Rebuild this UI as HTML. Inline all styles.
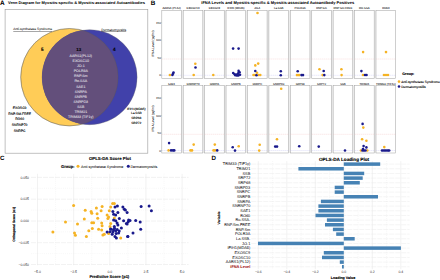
<!DOCTYPE html>
<html><head><meta charset="utf-8"><style>
html,body{margin:0;padding:0;background:#fff;width:440px;height:280px;overflow:hidden}
svg{display:block;font-family:"Liberation Sans", sans-serif;text-rendering:geometricPrecision}
</style></head><body>
<svg width="440" height="280" viewBox="0 0 440 280">
<defs><filter id="bl" x="0" y="0" width="440" height="280" filterUnits="userSpaceOnUse"><feGaussianBlur stdDeviation="0.0"/></filter></defs>
<g>
<rect width="440" height="280" fill="#fff"/>
<text x="0.00" y="4.60" font-size="6.4" text-anchor="start" font-weight="bold" fill="#000" >A</text>
<text x="8.00" y="4.20" font-size="3.93" text-anchor="start" font-weight="bold" fill="#000" stroke="#000" stroke-width="0.03" >Venn Diagram for Myositis-specific &amp; Myositis-associated Autoantibodies</text>
<rect x="5.10" y="9.60" width="142.70" height="143.60" fill="none" stroke="#a0a0a0" stroke-width="0.65" />
<defs><clipPath id="cy"><circle cx="69.4" cy="77.2" r="48.7"/></clipPath></defs>
<circle cx="69.40" cy="77.20" r="48.7" fill="#FFCC57" stroke="#6b6b6b" stroke-width="0.35"/>
<circle cx="89.60" cy="77.20" r="47.5" fill="#4141AA" stroke="#6b6b6b" stroke-width="0.35"/>
<circle cx="89.60" cy="77.20" r="47.5" fill="#634F7B" clip-path="url(#cy)"/>
<circle cx="69.4" cy="77.2" r="48.7" fill="none" stroke="#555" stroke-width="0.3"/>
<text x="13.30" y="30.40" font-size="3.3" text-anchor="start" fill="#000" stroke="#000" stroke-width="0.03" text-decoration="underline">Anti-synthetase Syndrome</text>
<text x="101.30" y="30.60" font-size="3.35" text-anchor="start" fill="#000" stroke="#000" stroke-width="0.03" text-decoration="underline">Dermatomyositis</text>
<text x="42.40" y="50.60" font-size="4.6" text-anchor="middle" font-weight="bold" fill="#000" stroke="#000" stroke-width="0.12" >5</text>
<text x="78.75" y="50.60" font-size="4.3" text-anchor="middle" font-weight="bold" fill="#000" stroke="#000" stroke-width="0.12" >13</text>
<text x="114.20" y="50.50" font-size="4.6" text-anchor="middle" font-weight="bold" fill="#000" stroke="#000" stroke-width="0.12" >4</text>
<text x="80.80" y="57.10" font-size="3.6" text-anchor="middle" fill="#fff" >AARS1(PL12)</text>
<text x="80.80" y="62.17" font-size="3.6" text-anchor="middle" fill="#fff" >EXOSC10</text>
<text x="80.80" y="67.24" font-size="3.6" text-anchor="middle" fill="#fff" >JO-1</text>
<text x="80.80" y="72.31" font-size="3.6" text-anchor="middle" fill="#fff" >POLR3A</text>
<text x="80.80" y="77.38" font-size="3.6" text-anchor="middle" fill="#fff" >RNP.Sm</text>
<text x="80.80" y="82.45" font-size="3.6" text-anchor="middle" fill="#fff" >Ro.SSA</text>
<text x="80.80" y="87.52" font-size="3.6" text-anchor="middle" fill="#fff" >SAE1</text>
<text x="80.80" y="92.59" font-size="3.6" text-anchor="middle" fill="#fff" >SNRPA</text>
<text x="80.80" y="97.66" font-size="3.6" text-anchor="middle" fill="#fff" >SNRPB</text>
<text x="80.80" y="102.73" font-size="3.6" text-anchor="middle" fill="#fff" >SNRPD3</text>
<text x="80.80" y="107.80" font-size="3.6" text-anchor="middle" fill="#fff" >SSB</text>
<text x="80.80" y="112.87" font-size="3.6" text-anchor="middle" fill="#fff" >TRIM21</text>
<text x="80.80" y="117.94" font-size="3.6" text-anchor="middle" fill="#fff" >TRIM33 (TIF1γ)</text>
<text x="19.60" y="108.75" font-size="3.4" text-anchor="middle" fill="#000" stroke="#000" stroke-width="0.1" >EXOSC9</text>
<text x="19.60" y="114.53" font-size="3.4" text-anchor="middle" fill="#000" stroke="#000" stroke-width="0.1" >RNP.SM.FREE</text>
<text x="19.60" y="120.31" font-size="3.4" text-anchor="middle" fill="#000" stroke="#000" stroke-width="0.1" >RO60</text>
<text x="19.60" y="126.09" font-size="3.4" text-anchor="middle" fill="#000" stroke="#000" stroke-width="0.1" >SNRNP70</text>
<text x="19.60" y="131.87" font-size="3.4" text-anchor="middle" fill="#000" stroke="#000" stroke-width="0.1" >SNRPC</text>
<text x="136.30" y="109.50" font-size="3.2" text-anchor="middle" fill="#000" stroke="#000" stroke-width="0.1" >IFIH1(MDA5)</text>
<text x="136.30" y="114.30" font-size="3.2" text-anchor="middle" fill="#000" stroke="#000" stroke-width="0.1" >La.SSB</text>
<text x="136.30" y="119.10" font-size="3.2" text-anchor="middle" fill="#000" stroke="#000" stroke-width="0.1" >SRP68</text>
<text x="136.30" y="123.90" font-size="3.2" text-anchor="middle" fill="#000" stroke="#000" stroke-width="0.1" >SRP72</text>
<text x="150.80" y="4.60" font-size="6.3" text-anchor="start" font-weight="bold" fill="#000" stroke="#000" stroke-width="0.05" >B</text>
<text x="201.30" y="4.20" font-size="4.0" text-anchor="start" font-weight="bold" fill="#000" stroke="#000" stroke-width="0.03" >IFNA Levels and Myositis-specific &amp; Myositis-associated Autoantibody Positives</text>
<rect x="181.40" y="10.30" width="1.82" height="68.10" fill="#ececec" stroke="none" stroke-width="0" />
<rect x="161.80" y="10.30" width="19.60" height="68.10" fill="#fff" stroke="#a6a6a6" stroke-width="0.55" />
<line x1="161.80" y1="59.00" x2="181.40" y2="59.00" stroke="#f2b8b8" stroke-width="0.3" stroke-dasharray="1.5 0.5"/>
<line x1="161.80" y1="75.30" x2="181.40" y2="75.30" stroke="#b8b8f2" stroke-width="0.3" stroke-dasharray="1.5 0.5"/>
<text x="171.60" y="9.30" font-size="2.8" text-anchor="middle" fill="#111" stroke="#111" stroke-width="0.06" >AARS1 (PL12)</text>
<rect x="202.82" y="10.30" width="1.82" height="68.10" fill="#ececec" stroke="none" stroke-width="0" />
<rect x="183.22" y="10.30" width="19.60" height="68.10" fill="#fff" stroke="#a6a6a6" stroke-width="0.55" />
<line x1="183.22" y1="59.00" x2="202.82" y2="59.00" stroke="#f2b8b8" stroke-width="0.3" stroke-dasharray="1.5 0.5"/>
<line x1="183.22" y1="75.30" x2="202.82" y2="75.30" stroke="#b8b8f2" stroke-width="0.3" stroke-dasharray="1.5 0.5"/>
<text x="193.02" y="9.30" font-size="2.8" text-anchor="middle" fill="#111" stroke="#111" stroke-width="0.06" >EXOSC10</text>
<rect x="224.24" y="10.30" width="1.82" height="68.10" fill="#ececec" stroke="none" stroke-width="0" />
<rect x="204.64" y="10.30" width="19.60" height="68.10" fill="#fff" stroke="#a6a6a6" stroke-width="0.55" />
<line x1="204.64" y1="59.00" x2="224.24" y2="59.00" stroke="#f2b8b8" stroke-width="0.3" stroke-dasharray="1.5 0.5"/>
<line x1="204.64" y1="75.30" x2="224.24" y2="75.30" stroke="#b8b8f2" stroke-width="0.3" stroke-dasharray="1.5 0.5"/>
<text x="214.44" y="9.30" font-size="2.8" text-anchor="middle" fill="#111" stroke="#111" stroke-width="0.06" >EXOSC9</text>
<rect x="245.66" y="10.30" width="1.82" height="68.10" fill="#ececec" stroke="none" stroke-width="0" />
<rect x="226.06" y="10.30" width="19.60" height="68.10" fill="#fff" stroke="#a6a6a6" stroke-width="0.55" />
<line x1="226.06" y1="59.00" x2="245.66" y2="59.00" stroke="#f2b8b8" stroke-width="0.3" stroke-dasharray="1.5 0.5"/>
<line x1="226.06" y1="75.30" x2="245.66" y2="75.30" stroke="#b8b8f2" stroke-width="0.3" stroke-dasharray="1.5 0.5"/>
<text x="235.86" y="9.30" font-size="2.8" text-anchor="middle" fill="#111" stroke="#111" stroke-width="0.06" >IFIH1 (MDA5)</text>
<rect x="267.08" y="10.30" width="1.82" height="68.10" fill="#ececec" stroke="none" stroke-width="0" />
<rect x="247.48" y="10.30" width="19.60" height="68.10" fill="#fff" stroke="#a6a6a6" stroke-width="0.55" />
<line x1="247.48" y1="59.00" x2="267.08" y2="59.00" stroke="#f2b8b8" stroke-width="0.3" stroke-dasharray="1.5 0.5"/>
<line x1="247.48" y1="75.30" x2="267.08" y2="75.30" stroke="#b8b8f2" stroke-width="0.3" stroke-dasharray="1.5 0.5"/>
<text x="257.28" y="9.30" font-size="2.8" text-anchor="middle" fill="#111" stroke="#111" stroke-width="0.06" >JO-1</text>
<rect x="288.50" y="10.30" width="1.82" height="68.10" fill="#ececec" stroke="none" stroke-width="0" />
<rect x="268.90" y="10.30" width="19.60" height="68.10" fill="#fff" stroke="#a6a6a6" stroke-width="0.55" />
<line x1="268.90" y1="59.00" x2="288.50" y2="59.00" stroke="#f2b8b8" stroke-width="0.3" stroke-dasharray="1.5 0.5"/>
<line x1="268.90" y1="75.30" x2="288.50" y2="75.30" stroke="#b8b8f2" stroke-width="0.3" stroke-dasharray="1.5 0.5"/>
<text x="278.70" y="9.30" font-size="2.8" text-anchor="middle" fill="#111" stroke="#111" stroke-width="0.06" >La.SSB</text>
<rect x="309.92" y="10.30" width="1.82" height="68.10" fill="#ececec" stroke="none" stroke-width="0" />
<rect x="290.32" y="10.30" width="19.60" height="68.10" fill="#fff" stroke="#a6a6a6" stroke-width="0.55" />
<line x1="290.32" y1="59.00" x2="309.92" y2="59.00" stroke="#f2b8b8" stroke-width="0.3" stroke-dasharray="1.5 0.5"/>
<line x1="290.32" y1="75.30" x2="309.92" y2="75.30" stroke="#b8b8f2" stroke-width="0.3" stroke-dasharray="1.5 0.5"/>
<text x="300.12" y="9.30" font-size="2.8" text-anchor="middle" fill="#111" stroke="#111" stroke-width="0.06" >POLR3A</text>
<rect x="331.34" y="10.30" width="1.82" height="68.10" fill="#ececec" stroke="none" stroke-width="0" />
<rect x="311.74" y="10.30" width="19.60" height="68.10" fill="#fff" stroke="#a6a6a6" stroke-width="0.55" />
<line x1="311.74" y1="59.00" x2="331.34" y2="59.00" stroke="#f2b8b8" stroke-width="0.3" stroke-dasharray="1.5 0.5"/>
<line x1="311.74" y1="75.30" x2="331.34" y2="75.30" stroke="#b8b8f2" stroke-width="0.3" stroke-dasharray="1.5 0.5"/>
<text x="321.54" y="9.30" font-size="2.8" text-anchor="middle" fill="#111" stroke="#111" stroke-width="0.06" >RNP.Sm</text>
<rect x="352.76" y="10.30" width="1.82" height="68.10" fill="#ececec" stroke="none" stroke-width="0" />
<rect x="333.16" y="10.30" width="19.60" height="68.10" fill="#fff" stroke="#a6a6a6" stroke-width="0.55" />
<line x1="333.16" y1="59.00" x2="352.76" y2="59.00" stroke="#f2b8b8" stroke-width="0.3" stroke-dasharray="1.5 0.5"/>
<line x1="333.16" y1="75.30" x2="352.76" y2="75.30" stroke="#b8b8f2" stroke-width="0.3" stroke-dasharray="1.5 0.5"/>
<text x="342.96" y="9.30" font-size="2.8" text-anchor="middle" fill="#111" stroke="#111" stroke-width="0.06" >RNP.Sm.FREE</text>
<rect x="374.18" y="10.30" width="1.82" height="68.10" fill="#ececec" stroke="none" stroke-width="0" />
<rect x="354.58" y="10.30" width="19.60" height="68.10" fill="#fff" stroke="#a6a6a6" stroke-width="0.55" />
<line x1="354.58" y1="59.00" x2="374.18" y2="59.00" stroke="#f2b8b8" stroke-width="0.3" stroke-dasharray="1.5 0.5"/>
<line x1="354.58" y1="75.30" x2="374.18" y2="75.30" stroke="#b8b8f2" stroke-width="0.3" stroke-dasharray="1.5 0.5"/>
<text x="364.38" y="9.30" font-size="2.8" text-anchor="middle" fill="#111" stroke="#111" stroke-width="0.06" >RO.SSA</text>
<rect x="376.00" y="10.30" width="19.60" height="68.10" fill="#fff" stroke="#a6a6a6" stroke-width="0.55" />
<line x1="376.00" y1="59.00" x2="395.60" y2="59.00" stroke="#f2b8b8" stroke-width="0.3" stroke-dasharray="1.5 0.5"/>
<line x1="376.00" y1="75.30" x2="395.60" y2="75.30" stroke="#b8b8f2" stroke-width="0.3" stroke-dasharray="1.5 0.5"/>
<text x="385.80" y="9.30" font-size="2.8" text-anchor="middle" fill="#111" stroke="#111" stroke-width="0.06" >RO60</text>
<text x="160.90" y="76.30" font-size="2.95" text-anchor="end" fill="#333" stroke="#333" stroke-width="0.06" >0</text>
<line x1="161.00" y1="75.30" x2="161.80" y2="75.30" stroke="#999" stroke-width="0.3" />
<text x="160.90" y="58.70" font-size="2.95" text-anchor="end" fill="#333" stroke="#333" stroke-width="0.06" >50</text>
<line x1="161.00" y1="57.70" x2="161.80" y2="57.70" stroke="#999" stroke-width="0.3" />
<text x="160.90" y="41.10" font-size="2.95" text-anchor="end" fill="#333" stroke="#333" stroke-width="0.06" >100</text>
<line x1="161.00" y1="40.10" x2="161.80" y2="40.10" stroke="#999" stroke-width="0.3" />
<text x="160.90" y="23.50" font-size="2.95" text-anchor="end" fill="#333" stroke="#333" stroke-width="0.06" >150</text>
<line x1="161.00" y1="22.50" x2="161.80" y2="22.50" stroke="#999" stroke-width="0.3" />
<text x="0" y="0" font-size="3.2" fill="#111" stroke="#111" stroke-width="0.06" text-anchor="middle" transform="translate(154.2,43.65) rotate(-90)">IFNA Level (pg/ml)</text>
<rect x="181.40" y="85.50" width="1.82" height="67.50" fill="#ececec" stroke="none" stroke-width="0" />
<rect x="161.80" y="85.50" width="19.60" height="67.50" fill="#fff" stroke="#a6a6a6" stroke-width="0.55" />
<line x1="161.80" y1="134.30" x2="181.40" y2="134.30" stroke="#f2b8b8" stroke-width="0.3" stroke-dasharray="1.5 0.5"/>
<line x1="161.80" y1="150.50" x2="181.40" y2="150.50" stroke="#b8b8f2" stroke-width="0.3" stroke-dasharray="1.5 0.5"/>
<text x="171.60" y="84.60" font-size="2.8" text-anchor="middle" fill="#111" stroke="#111" stroke-width="0.06" >SAE1</text>
<rect x="202.82" y="85.50" width="1.82" height="67.50" fill="#ececec" stroke="none" stroke-width="0" />
<rect x="183.22" y="85.50" width="19.60" height="67.50" fill="#fff" stroke="#a6a6a6" stroke-width="0.55" />
<line x1="183.22" y1="134.30" x2="202.82" y2="134.30" stroke="#f2b8b8" stroke-width="0.3" stroke-dasharray="1.5 0.5"/>
<line x1="183.22" y1="150.50" x2="202.82" y2="150.50" stroke="#b8b8f2" stroke-width="0.3" stroke-dasharray="1.5 0.5"/>
<text x="193.02" y="84.60" font-size="2.8" text-anchor="middle" fill="#111" stroke="#111" stroke-width="0.06" >SNRNP70</text>
<rect x="224.24" y="85.50" width="1.82" height="67.50" fill="#ececec" stroke="none" stroke-width="0" />
<rect x="204.64" y="85.50" width="19.60" height="67.50" fill="#fff" stroke="#a6a6a6" stroke-width="0.55" />
<line x1="204.64" y1="134.30" x2="224.24" y2="134.30" stroke="#f2b8b8" stroke-width="0.3" stroke-dasharray="1.5 0.5"/>
<line x1="204.64" y1="150.50" x2="224.24" y2="150.50" stroke="#b8b8f2" stroke-width="0.3" stroke-dasharray="1.5 0.5"/>
<text x="214.44" y="84.60" font-size="2.8" text-anchor="middle" fill="#111" stroke="#111" stroke-width="0.06" >SNRPA</text>
<rect x="245.66" y="85.50" width="1.82" height="67.50" fill="#ececec" stroke="none" stroke-width="0" />
<rect x="226.06" y="85.50" width="19.60" height="67.50" fill="#fff" stroke="#a6a6a6" stroke-width="0.55" />
<line x1="226.06" y1="134.30" x2="245.66" y2="134.30" stroke="#f2b8b8" stroke-width="0.3" stroke-dasharray="1.5 0.5"/>
<line x1="226.06" y1="150.50" x2="245.66" y2="150.50" stroke="#b8b8f2" stroke-width="0.3" stroke-dasharray="1.5 0.5"/>
<text x="235.86" y="84.60" font-size="2.8" text-anchor="middle" fill="#111" stroke="#111" stroke-width="0.06" >SNRPB</text>
<rect x="267.08" y="85.50" width="1.82" height="67.50" fill="#ececec" stroke="none" stroke-width="0" />
<rect x="247.48" y="85.50" width="19.60" height="67.50" fill="#fff" stroke="#a6a6a6" stroke-width="0.55" />
<line x1="247.48" y1="134.30" x2="267.08" y2="134.30" stroke="#f2b8b8" stroke-width="0.3" stroke-dasharray="1.5 0.5"/>
<line x1="247.48" y1="150.50" x2="267.08" y2="150.50" stroke="#b8b8f2" stroke-width="0.3" stroke-dasharray="1.5 0.5"/>
<text x="257.28" y="84.60" font-size="2.8" text-anchor="middle" fill="#111" stroke="#111" stroke-width="0.06" >SNRPC</text>
<rect x="288.50" y="85.50" width="1.82" height="67.50" fill="#ececec" stroke="none" stroke-width="0" />
<rect x="268.90" y="85.50" width="19.60" height="67.50" fill="#fff" stroke="#a6a6a6" stroke-width="0.55" />
<line x1="268.90" y1="134.30" x2="288.50" y2="134.30" stroke="#f2b8b8" stroke-width="0.3" stroke-dasharray="1.5 0.5"/>
<line x1="268.90" y1="150.50" x2="288.50" y2="150.50" stroke="#b8b8f2" stroke-width="0.3" stroke-dasharray="1.5 0.5"/>
<text x="278.70" y="84.60" font-size="2.8" text-anchor="middle" fill="#111" stroke="#111" stroke-width="0.06" >SNRPD3</text>
<rect x="309.92" y="85.50" width="1.82" height="67.50" fill="#ececec" stroke="none" stroke-width="0" />
<rect x="290.32" y="85.50" width="19.60" height="67.50" fill="#fff" stroke="#a6a6a6" stroke-width="0.55" />
<line x1="290.32" y1="134.30" x2="309.92" y2="134.30" stroke="#f2b8b8" stroke-width="0.3" stroke-dasharray="1.5 0.5"/>
<line x1="290.32" y1="150.50" x2="309.92" y2="150.50" stroke="#b8b8f2" stroke-width="0.3" stroke-dasharray="1.5 0.5"/>
<text x="300.12" y="84.60" font-size="2.8" text-anchor="middle" fill="#111" stroke="#111" stroke-width="0.06" >SRP68</text>
<rect x="331.34" y="85.50" width="1.82" height="67.50" fill="#ececec" stroke="none" stroke-width="0" />
<rect x="311.74" y="85.50" width="19.60" height="67.50" fill="#fff" stroke="#a6a6a6" stroke-width="0.55" />
<line x1="311.74" y1="134.30" x2="331.34" y2="134.30" stroke="#f2b8b8" stroke-width="0.3" stroke-dasharray="1.5 0.5"/>
<line x1="311.74" y1="150.50" x2="331.34" y2="150.50" stroke="#b8b8f2" stroke-width="0.3" stroke-dasharray="1.5 0.5"/>
<text x="321.54" y="84.60" font-size="2.8" text-anchor="middle" fill="#111" stroke="#111" stroke-width="0.06" >SRP72</text>
<rect x="352.76" y="85.50" width="1.82" height="67.50" fill="#ececec" stroke="none" stroke-width="0" />
<rect x="333.16" y="85.50" width="19.60" height="67.50" fill="#fff" stroke="#a6a6a6" stroke-width="0.55" />
<line x1="333.16" y1="134.30" x2="352.76" y2="134.30" stroke="#f2b8b8" stroke-width="0.3" stroke-dasharray="1.5 0.5"/>
<line x1="333.16" y1="150.50" x2="352.76" y2="150.50" stroke="#b8b8f2" stroke-width="0.3" stroke-dasharray="1.5 0.5"/>
<text x="342.96" y="84.60" font-size="2.8" text-anchor="middle" fill="#111" stroke="#111" stroke-width="0.06" >SSB</text>
<rect x="374.18" y="85.50" width="1.82" height="67.50" fill="#ececec" stroke="none" stroke-width="0" />
<rect x="354.58" y="85.50" width="19.60" height="67.50" fill="#fff" stroke="#a6a6a6" stroke-width="0.55" />
<line x1="354.58" y1="134.30" x2="374.18" y2="134.30" stroke="#f2b8b8" stroke-width="0.3" stroke-dasharray="1.5 0.5"/>
<line x1="354.58" y1="150.50" x2="374.18" y2="150.50" stroke="#b8b8f2" stroke-width="0.3" stroke-dasharray="1.5 0.5"/>
<text x="364.38" y="84.60" font-size="2.8" text-anchor="middle" fill="#111" stroke="#111" stroke-width="0.06" >TRIM21</text>
<rect x="376.00" y="85.50" width="19.60" height="67.50" fill="#fff" stroke="#a6a6a6" stroke-width="0.55" />
<line x1="376.00" y1="134.30" x2="395.60" y2="134.30" stroke="#f2b8b8" stroke-width="0.3" stroke-dasharray="1.5 0.5"/>
<line x1="376.00" y1="150.50" x2="395.60" y2="150.50" stroke="#b8b8f2" stroke-width="0.3" stroke-dasharray="1.5 0.5"/>
<text x="385.80" y="84.60" font-size="2.8" text-anchor="middle" fill="#111" stroke="#111" stroke-width="0.06" >TRIM33 (TIF1γ)</text>
<text x="160.90" y="151.50" font-size="2.95" text-anchor="end" fill="#333" stroke="#333" stroke-width="0.06" >0</text>
<line x1="161.00" y1="150.50" x2="161.80" y2="150.50" stroke="#999" stroke-width="0.3" />
<text x="160.90" y="134.00" font-size="2.95" text-anchor="end" fill="#333" stroke="#333" stroke-width="0.06" >50</text>
<line x1="161.00" y1="133.00" x2="161.80" y2="133.00" stroke="#999" stroke-width="0.3" />
<text x="160.90" y="116.50" font-size="2.95" text-anchor="end" fill="#333" stroke="#333" stroke-width="0.06" >100</text>
<line x1="161.00" y1="115.50" x2="161.80" y2="115.50" stroke="#999" stroke-width="0.3" />
<text x="160.90" y="99.00" font-size="2.95" text-anchor="end" fill="#333" stroke="#333" stroke-width="0.06" >150</text>
<line x1="161.00" y1="98.00" x2="161.80" y2="98.00" stroke="#999" stroke-width="0.3" />
<text x="0" y="0" font-size="3.2" fill="#111" stroke="#111" stroke-width="0.06" text-anchor="middle" transform="translate(154.2,118.55) rotate(-90)">IFNA Level (pg/ml)</text>
<circle cx="169.90" cy="75.00" r="1.3" fill="#F5B324" />
<circle cx="173.50" cy="72.60" r="1.3" fill="#1A1A8C" />
<circle cx="173.00" cy="73.80" r="1.3" fill="#1A1A8C" />
<circle cx="172.40" cy="75.00" r="1.3" fill="#1A1A8C" />
<circle cx="195.30" cy="63.80" r="1.3" fill="#F5B324" />
<circle cx="195.50" cy="67.50" r="1.3" fill="#1A1A8C" />
<circle cx="193.70" cy="75.00" r="1.3" fill="#F5B324" />
<circle cx="213.30" cy="75.00" r="1.3" fill="#F5B324" />
<circle cx="233.10" cy="48.60" r="1.3" fill="#1A1A8C" />
<circle cx="238.60" cy="48.60" r="1.3" fill="#1A1A8C" />
<circle cx="233.20" cy="73.00" r="1.3" fill="#1A1A8C" />
<circle cx="234.60" cy="74.20" r="1.3" fill="#1A1A8C" />
<circle cx="235.30" cy="75.20" r="1.3" fill="#1A1A8C" />
<circle cx="236.90" cy="75.40" r="1.3" fill="#1A1A8C" />
<circle cx="238.40" cy="75.40" r="1.3" fill="#1A1A8C" />
<circle cx="240.00" cy="74.80" r="1.3" fill="#1A1A8C" />
<circle cx="238.20" cy="73.40" r="1.3" fill="#1A1A8C" />
<circle cx="239.60" cy="72.20" r="1.3" fill="#1A1A8C" />
<circle cx="238.60" cy="70.90" r="1.3" fill="#1A1A8C" />
<circle cx="236.40" cy="74.60" r="1.3" fill="#1A1A8C" />
<circle cx="257.50" cy="13.00" r="1.3" fill="#F5B324" />
<circle cx="255.30" cy="65.40" r="1.3" fill="#F5B324" />
<circle cx="258.20" cy="63.60" r="1.3" fill="#F5B324" />
<circle cx="253.50" cy="75.00" r="1.3" fill="#F5B324" />
<circle cx="255.00" cy="75.00" r="1.3" fill="#F5B324" />
<circle cx="257.00" cy="72.80" r="1.3" fill="#F5B324" />
<circle cx="258.80" cy="75.00" r="1.3" fill="#F5B324" />
<circle cx="260.30" cy="75.00" r="1.3" fill="#F5B324" />
<circle cx="255.30" cy="71.00" r="1.3" fill="#1A1A8C" />
<circle cx="256.50" cy="75.20" r="1.3" fill="#1A1A8C" />
<circle cx="280.80" cy="71.30" r="1.3" fill="#1A1A8C" />
<circle cx="280.80" cy="75.20" r="1.3" fill="#1A1A8C" />
<circle cx="297.70" cy="71.30" r="1.3" fill="#1A1A8C" />
<circle cx="297.00" cy="75.10" r="1.3" fill="#F5B324" />
<circle cx="299.00" cy="75.10" r="1.3" fill="#F5B324" />
<circle cx="301.50" cy="75.10" r="1.3" fill="#1A1A8C" />
<circle cx="303.00" cy="75.10" r="1.3" fill="#1A1A8C" />
<circle cx="319.50" cy="69.20" r="1.3" fill="#F5B324" />
<circle cx="322.60" cy="75.10" r="1.3" fill="#F5B324" />
<circle cx="323.70" cy="71.00" r="1.3" fill="#1A1A8C" />
<circle cx="324.30" cy="75.10" r="1.3" fill="#1A1A8C" />
<circle cx="341.40" cy="69.20" r="1.3" fill="#F5B324" />
<circle cx="341.60" cy="75.10" r="1.3" fill="#F5B324" />
<circle cx="363.10" cy="52.10" r="1.3" fill="#F5B324" />
<circle cx="363.00" cy="75.00" r="1.3" fill="#F5B324" />
<circle cx="361.40" cy="71.10" r="1.3" fill="#1A1A8C" />
<circle cx="365.00" cy="75.00" r="1.3" fill="#1A1A8C" />
<circle cx="366.50" cy="75.00" r="1.3" fill="#1A1A8C" />
<circle cx="386.00" cy="52.10" r="1.3" fill="#F5B324" />
<circle cx="384.00" cy="75.00" r="1.3" fill="#F5B324" />
<circle cx="386.00" cy="75.00" r="1.3" fill="#F5B324" />
<circle cx="388.00" cy="75.00" r="1.3" fill="#F5B324" />
<circle cx="169.10" cy="143.10" r="1.3" fill="#1A1A8C" />
<circle cx="168.60" cy="150.40" r="1.3" fill="#F5B324" />
<circle cx="171.10" cy="150.40" r="1.3" fill="#1A1A8C" />
<circle cx="173.00" cy="150.40" r="1.3" fill="#1A1A8C" />
<circle cx="174.30" cy="150.40" r="1.3" fill="#1A1A8C" />
<circle cx="193.70" cy="144.60" r="1.3" fill="#F5B324" />
<circle cx="190.50" cy="150.40" r="1.3" fill="#F5B324" />
<circle cx="192.00" cy="150.40" r="1.3" fill="#F5B324" />
<circle cx="214.80" cy="144.60" r="1.3" fill="#F5B324" />
<circle cx="213.50" cy="150.40" r="1.3" fill="#F5B324" />
<circle cx="215.00" cy="150.40" r="1.3" fill="#F5B324" />
<circle cx="217.20" cy="150.40" r="1.3" fill="#1A1A8C" />
<circle cx="232.70" cy="147.30" r="1.3" fill="#1A1A8C" />
<circle cx="235.00" cy="150.60" r="1.3" fill="#1A1A8C" />
<circle cx="238.70" cy="146.30" r="1.3" fill="#F5B324" />
<circle cx="259.70" cy="144.70" r="1.3" fill="#F5B324" />
<circle cx="259.20" cy="150.60" r="1.3" fill="#F5B324" />
<circle cx="281.20" cy="88.70" r="1.3" fill="#F5B324" />
<circle cx="277.00" cy="139.20" r="1.3" fill="#F5B324" />
<circle cx="275.20" cy="146.60" r="1.3" fill="#1A1A8C" />
<circle cx="277.00" cy="146.60" r="1.3" fill="#1A1A8C" />
<circle cx="299.25" cy="146.30" r="1.3" fill="#1A1A8C" />
<circle cx="318.75" cy="146.60" r="1.3" fill="#1A1A8C" />
<circle cx="345.00" cy="150.50" r="1.3" fill="#1A1A8C" />
<circle cx="362.60" cy="123.90" r="1.3" fill="#1A1A8C" />
<circle cx="363.30" cy="127.60" r="1.3" fill="#F5B324" />
<circle cx="362.10" cy="139.30" r="1.3" fill="#F5B324" />
<circle cx="366.40" cy="140.70" r="1.3" fill="#F5B324" />
<circle cx="361.00" cy="150.50" r="1.3" fill="#F5B324" />
<circle cx="367.30" cy="150.50" r="1.3" fill="#F5B324" />
<circle cx="363.60" cy="146.10" r="1.3" fill="#1A1A8C" />
<circle cx="366.40" cy="147.40" r="1.3" fill="#1A1A8C" />
<circle cx="362.50" cy="150.50" r="1.3" fill="#1A1A8C" />
<circle cx="364.00" cy="150.50" r="1.3" fill="#1A1A8C" />
<circle cx="365.50" cy="150.50" r="1.3" fill="#1A1A8C" />
<circle cx="363.00" cy="149.00" r="1.3" fill="#1A1A8C" />
<circle cx="384.30" cy="147.10" r="1.3" fill="#F5B324" />
<circle cx="382.00" cy="150.50" r="1.3" fill="#1A1A8C" />
<circle cx="383.50" cy="150.50" r="1.3" fill="#1A1A8C" />
<circle cx="385.00" cy="150.50" r="1.3" fill="#1A1A8C" />
<circle cx="386.50" cy="150.50" r="1.3" fill="#1A1A8C" />
<circle cx="388.00" cy="150.50" r="1.3" fill="#1A1A8C" />
<circle cx="389.20" cy="150.50" r="1.3" fill="#1A1A8C" />
<text x="402.30" y="74.80" font-size="3.6" text-anchor="start" font-weight="bold" fill="#000" stroke="#000" stroke-width="0.12" >Group:</text>
<circle cx="399.00" cy="81.60" r="1.3" fill="#F5B324" />
<text x="401.20" y="82.80" font-size="3.3" text-anchor="start" fill="#000" stroke="#000" stroke-width="0.1" >Anti-synthetase Syndrome</text>
<circle cx="399.00" cy="86.50" r="1.3" fill="#1A1A8C" />
<text x="401.20" y="87.70" font-size="3.3" text-anchor="start" fill="#000" stroke="#000" stroke-width="0.1" >Dermatomyositis</text>
<text x="0.00" y="159.60" font-size="6.2" text-anchor="start" font-weight="bold" fill="#000" >C</text>
<text x="88.90" y="160.40" font-size="4.35" text-anchor="start" font-weight="bold" fill="#000" stroke="#000" stroke-width="0.12" >OPLS-DA Score Plot</text>
<text x="61.00" y="167.70" font-size="4.05" text-anchor="start" font-weight="bold" fill="#000" stroke="#000" stroke-width="0.12" >Group:</text>
<circle cx="78.00" cy="166.30" r="1.5" fill="#F5B324" />
<text x="81.10" y="167.60" font-size="3.6" text-anchor="start" fill="#000" stroke="#000" stroke-width="0.04" >Anti-synthetase Syndrome</text>
<circle cx="128.30" cy="166.30" r="1.5" fill="#1A1A8C" />
<text x="130.50" y="167.60" font-size="3.6" text-anchor="start" fill="#000" stroke="#000" stroke-width="0.04" >Dermatomyositis</text>
<line x1="55.58" y1="173.80" x2="55.58" y2="265.20" stroke="#e8e8e8" stroke-width="0.45" stroke-dasharray="0.7 1.2"/>
<line x1="91.72" y1="173.80" x2="91.72" y2="265.20" stroke="#e8e8e8" stroke-width="0.45" stroke-dasharray="0.7 1.2"/>
<line x1="127.88" y1="173.80" x2="127.88" y2="265.20" stroke="#e8e8e8" stroke-width="0.45" stroke-dasharray="0.7 1.2"/>
<line x1="164.02" y1="173.80" x2="164.02" y2="265.20" stroke="#e8e8e8" stroke-width="0.45" stroke-dasharray="0.7 1.2"/>
<line x1="31.00" y1="188.30" x2="188.60" y2="188.30" stroke="#e8e8e8" stroke-width="0.45" stroke-dasharray="0.7 1.2"/>
<line x1="31.00" y1="210.10" x2="188.60" y2="210.10" stroke="#e8e8e8" stroke-width="0.45" stroke-dasharray="0.7 1.2"/>
<line x1="31.00" y1="231.85" x2="188.60" y2="231.85" stroke="#e8e8e8" stroke-width="0.45" stroke-dasharray="0.7 1.2"/>
<line x1="31.00" y1="253.60" x2="188.60" y2="253.60" stroke="#e8e8e8" stroke-width="0.45" stroke-dasharray="0.7 1.2"/>
<line x1="37.50" y1="173.80" x2="37.50" y2="265.20" stroke="#e8e8e8" stroke-width="0.55" />
<line x1="73.65" y1="173.80" x2="73.65" y2="265.20" stroke="#e8e8e8" stroke-width="0.55" />
<line x1="109.80" y1="173.80" x2="109.80" y2="265.20" stroke="#e8e8e8" stroke-width="0.55" />
<line x1="145.95" y1="173.80" x2="145.95" y2="265.20" stroke="#e8e8e8" stroke-width="0.55" />
<line x1="182.10" y1="173.80" x2="182.10" y2="265.20" stroke="#e8e8e8" stroke-width="0.55" />
<line x1="31.00" y1="177.40" x2="188.60" y2="177.40" stroke="#e8e8e8" stroke-width="0.55" stroke-dasharray="5 1"/>
<line x1="31.00" y1="199.20" x2="188.60" y2="199.20" stroke="#e8e8e8" stroke-width="0.55" stroke-dasharray="5 1"/>
<line x1="31.00" y1="221.00" x2="188.60" y2="221.00" stroke="#e8e8e8" stroke-width="0.55" stroke-dasharray="5 1"/>
<line x1="31.00" y1="242.70" x2="188.60" y2="242.70" stroke="#e8e8e8" stroke-width="0.55" stroke-dasharray="5 1"/>
<line x1="31.00" y1="264.50" x2="188.60" y2="264.50" stroke="#e8e8e8" stroke-width="0.55" stroke-dasharray="5 1"/>
<text x="29.00" y="178.60" font-size="3.45" text-anchor="end" fill="#444" stroke="#444" stroke-width="0.04" >0.050</text>
<text x="29.00" y="200.40" font-size="3.45" text-anchor="end" fill="#444" stroke="#444" stroke-width="0.04" >0.025</text>
<text x="29.00" y="222.20" font-size="3.45" text-anchor="end" fill="#444" stroke="#444" stroke-width="0.04" >0.000</text>
<text x="29.00" y="243.90" font-size="3.45" text-anchor="end" fill="#444" stroke="#444" stroke-width="0.04" >−0.025</text>
<text x="29.00" y="265.70" font-size="3.45" text-anchor="end" fill="#444" stroke="#444" stroke-width="0.04" >−0.050</text>
<text x="37.50" y="273.00" font-size="3.45" text-anchor="middle" fill="#444" stroke="#444" stroke-width="0.04" >−5.0</text>
<text x="73.65" y="273.00" font-size="3.45" text-anchor="middle" fill="#444" stroke="#444" stroke-width="0.04" >−2.5</text>
<text x="109.80" y="273.00" font-size="3.45" text-anchor="middle" fill="#444" stroke="#444" stroke-width="0.04" >0.0</text>
<text x="145.95" y="273.00" font-size="3.45" text-anchor="middle" fill="#444" stroke="#444" stroke-width="0.04" >2.5</text>
<text x="182.10" y="273.00" font-size="3.45" text-anchor="middle" fill="#444" stroke="#444" stroke-width="0.04" >5.0</text>
<text x="109.30" y="277.80" font-size="4.0" text-anchor="middle" font-weight="bold" fill="#000" stroke="#000" stroke-width="0.12" >Predictive Score (p1)</text>
<text x="0" y="0" font-size="3.32" font-weight="bold" stroke="#000" stroke-width="0.13" text-anchor="middle" transform="translate(15.3,224.3) rotate(-90)">Orthogonal Score (o1)</text>
<circle cx="52.90" cy="231.90" r="1.5" fill="#F5B324" />
<circle cx="65.50" cy="222.10" r="1.5" fill="#F5B324" />
<circle cx="73.60" cy="205.40" r="1.5" fill="#F5B324" />
<circle cx="74.50" cy="232.90" r="1.5" fill="#F5B324" />
<circle cx="75.40" cy="235.20" r="1.5" fill="#F5B324" />
<circle cx="77.50" cy="223.90" r="1.5" fill="#F5B324" />
<circle cx="84.30" cy="219.10" r="1.5" fill="#F5B324" />
<circle cx="85.20" cy="210.20" r="1.5" fill="#F5B324" />
<circle cx="86.40" cy="236.60" r="1.5" fill="#F5B324" />
<circle cx="88.80" cy="230.70" r="1.5" fill="#F5B324" />
<circle cx="91.10" cy="211.40" r="1.5" fill="#F5B324" />
<circle cx="91.80" cy="213.20" r="1.5" fill="#F5B324" />
<circle cx="91.80" cy="222.70" r="1.5" fill="#F5B324" />
<circle cx="93.60" cy="222.70" r="1.5" fill="#F5B324" />
<circle cx="92.30" cy="228.60" r="1.5" fill="#F5B324" />
<circle cx="96.40" cy="207.90" r="1.5" fill="#F5B324" />
<circle cx="97.10" cy="213.80" r="1.5" fill="#F5B324" />
<circle cx="97.70" cy="218.20" r="1.5" fill="#F5B324" />
<circle cx="98.60" cy="229.30" r="1.5" fill="#F5B324" />
<circle cx="101.10" cy="210.70" r="1.5" fill="#F5B324" />
<circle cx="102.10" cy="206.40" r="1.5" fill="#F5B324" />
<circle cx="101.70" cy="222.90" r="1.5" fill="#F5B324" />
<circle cx="102.10" cy="225.70" r="1.5" fill="#F5B324" />
<circle cx="101.70" cy="230.00" r="1.5" fill="#F5B324" />
<circle cx="102.90" cy="235.00" r="1.5" fill="#F5B324" />
<circle cx="104.30" cy="234.30" r="1.5" fill="#F5B324" />
<circle cx="107.10" cy="215.00" r="1.5" fill="#F5B324" />
<circle cx="108.60" cy="217.10" r="1.5" fill="#F5B324" />
<circle cx="107.90" cy="218.60" r="1.5" fill="#F5B324" />
<circle cx="109.30" cy="210.70" r="1.5" fill="#F5B324" />
<circle cx="110.70" cy="207.10" r="1.5" fill="#F5B324" />
<circle cx="110.70" cy="223.60" r="1.5" fill="#F5B324" />
<circle cx="110.00" cy="226.40" r="1.5" fill="#F5B324" />
<circle cx="108.60" cy="233.60" r="1.5" fill="#F5B324" />
<circle cx="112.60" cy="203.60" r="1.5" fill="#F5B324" />
<circle cx="114.30" cy="203.60" r="1.5" fill="#F5B324" />
<circle cx="114.30" cy="217.90" r="1.5" fill="#F5B324" />
<circle cx="120.70" cy="237.90" r="1.5" fill="#F5B324" />
<circle cx="111.40" cy="229.30" r="1.5" fill="#1A1A8C" />
<circle cx="113.60" cy="230.00" r="1.5" fill="#1A1A8C" />
<circle cx="115.70" cy="230.70" r="1.5" fill="#1A1A8C" />
<circle cx="107.10" cy="232.10" r="1.5" fill="#1A1A8C" />
<circle cx="110.00" cy="231.70" r="1.5" fill="#1A1A8C" />
<circle cx="112.90" cy="232.10" r="1.5" fill="#1A1A8C" />
<circle cx="118.60" cy="232.90" r="1.5" fill="#1A1A8C" />
<circle cx="115.00" cy="236.40" r="1.5" fill="#1A1A8C" />
<circle cx="116.40" cy="237.90" r="1.5" fill="#1A1A8C" />
<circle cx="127.90" cy="236.40" r="1.5" fill="#1A1A8C" />
<circle cx="115.00" cy="207.10" r="1.5" fill="#1A1A8C" />
<circle cx="117.40" cy="206.00" r="1.5" fill="#1A1A8C" />
<circle cx="122.90" cy="207.10" r="1.5" fill="#1A1A8C" />
<circle cx="124.30" cy="209.30" r="1.5" fill="#1A1A8C" />
<circle cx="125.40" cy="210.00" r="1.5" fill="#1A1A8C" />
<circle cx="112.90" cy="211.40" r="1.5" fill="#1A1A8C" />
<circle cx="117.90" cy="212.60" r="1.5" fill="#1A1A8C" />
<circle cx="127.10" cy="212.60" r="1.5" fill="#1A1A8C" />
<circle cx="113.60" cy="214.30" r="1.5" fill="#1A1A8C" />
<circle cx="115.70" cy="215.00" r="1.5" fill="#1A1A8C" />
<circle cx="119.30" cy="218.60" r="1.5" fill="#1A1A8C" />
<circle cx="113.60" cy="220.00" r="1.5" fill="#1A1A8C" />
<circle cx="115.70" cy="220.70" r="1.5" fill="#1A1A8C" />
<circle cx="123.60" cy="220.70" r="1.5" fill="#1A1A8C" />
<circle cx="128.60" cy="220.00" r="1.5" fill="#1A1A8C" />
<circle cx="117.10" cy="222.90" r="1.5" fill="#1A1A8C" />
<circle cx="126.40" cy="223.60" r="1.5" fill="#1A1A8C" />
<circle cx="114.30" cy="226.40" r="1.5" fill="#1A1A8C" />
<circle cx="121.40" cy="227.90" r="1.5" fill="#1A1A8C" />
<circle cx="117.90" cy="225.00" r="1.5" fill="#1A1A8C" />
<circle cx="141.10" cy="206.60" r="1.5" fill="#1A1A8C" />
<circle cx="149.10" cy="206.10" r="1.5" fill="#1A1A8C" />
<circle cx="151.40" cy="210.70" r="1.5" fill="#1A1A8C" />
<circle cx="130.00" cy="220.50" r="1.5" fill="#1A1A8C" />
<circle cx="128.20" cy="221.80" r="1.5" fill="#1A1A8C" />
<circle cx="127.10" cy="223.90" r="1.5" fill="#1A1A8C" />
<circle cx="135.70" cy="220.40" r="1.5" fill="#1A1A8C" />
<circle cx="140.20" cy="222.10" r="1.5" fill="#1A1A8C" />
<circle cx="140.70" cy="229.30" r="1.5" fill="#1A1A8C" />
<circle cx="133.00" cy="232.90" r="1.5" fill="#1A1A8C" />
<circle cx="127.70" cy="236.40" r="1.5" fill="#1A1A8C" />
<circle cx="114.50" cy="228.30" r="1.5" fill="#1A1A8C" />
<circle cx="117.20" cy="229.60" r="1.5" fill="#1A1A8C" />
<circle cx="116.20" cy="233.60" r="1.5" fill="#1A1A8C" />
<circle cx="112.20" cy="234.20" r="1.5" fill="#1A1A8C" />
<circle cx="119.20" cy="231.00" r="1.5" fill="#1A1A8C" />
<circle cx="110.50" cy="229.00" r="1.5" fill="#1A1A8C" />
<text x="211.60" y="159.80" font-size="6.2" text-anchor="start" font-weight="bold" fill="#000" >D</text>
<text x="319.00" y="161.00" font-size="4.65" text-anchor="start" font-weight="bold" fill="#000" stroke="#000" stroke-width="0.12" >OPLS-DA Loading Plot</text>
<line x1="272.55" y1="161.20" x2="272.55" y2="269.20" stroke="#e8e8e8" stroke-width="0.45" stroke-dasharray="0.7 1.2"/>
<line x1="301.05" y1="161.20" x2="301.05" y2="269.20" stroke="#e8e8e8" stroke-width="0.45" stroke-dasharray="0.7 1.2"/>
<line x1="329.55" y1="161.20" x2="329.55" y2="269.20" stroke="#e8e8e8" stroke-width="0.45" stroke-dasharray="0.7 1.2"/>
<line x1="358.05" y1="161.20" x2="358.05" y2="269.20" stroke="#e8e8e8" stroke-width="0.45" stroke-dasharray="0.7 1.2"/>
<line x1="386.55" y1="161.20" x2="386.55" y2="269.20" stroke="#e8e8e8" stroke-width="0.45" stroke-dasharray="0.7 1.2"/>
<line x1="258.30" y1="161.20" x2="258.30" y2="269.20" stroke="#e8e8e8" stroke-width="0.55" />
<line x1="286.80" y1="161.20" x2="286.80" y2="269.20" stroke="#e8e8e8" stroke-width="0.55" />
<line x1="315.30" y1="161.20" x2="315.30" y2="269.20" stroke="#e8e8e8" stroke-width="0.55" />
<line x1="343.80" y1="161.20" x2="343.80" y2="269.20" stroke="#e8e8e8" stroke-width="0.55" />
<line x1="372.30" y1="161.20" x2="372.30" y2="269.20" stroke="#e8e8e8" stroke-width="0.55" />
<line x1="400.80" y1="161.20" x2="400.80" y2="269.20" stroke="#e8e8e8" stroke-width="0.55" />
<line x1="251.30" y1="164.10" x2="409.50" y2="164.10" stroke="#e8e8e8" stroke-width="0.5" stroke-dasharray="5 1"/>
<line x1="251.30" y1="168.77" x2="409.50" y2="168.77" stroke="#e8e8e8" stroke-width="0.5" stroke-dasharray="5 1"/>
<line x1="251.30" y1="173.43" x2="409.50" y2="173.43" stroke="#e8e8e8" stroke-width="0.5" stroke-dasharray="5 1"/>
<line x1="251.30" y1="178.10" x2="409.50" y2="178.10" stroke="#e8e8e8" stroke-width="0.5" stroke-dasharray="5 1"/>
<line x1="251.30" y1="182.77" x2="409.50" y2="182.77" stroke="#e8e8e8" stroke-width="0.5" stroke-dasharray="5 1"/>
<line x1="251.30" y1="187.44" x2="409.50" y2="187.44" stroke="#e8e8e8" stroke-width="0.5" stroke-dasharray="5 1"/>
<line x1="251.30" y1="192.10" x2="409.50" y2="192.10" stroke="#e8e8e8" stroke-width="0.5" stroke-dasharray="5 1"/>
<line x1="251.30" y1="196.77" x2="409.50" y2="196.77" stroke="#e8e8e8" stroke-width="0.5" stroke-dasharray="5 1"/>
<line x1="251.30" y1="201.44" x2="409.50" y2="201.44" stroke="#e8e8e8" stroke-width="0.5" stroke-dasharray="5 1"/>
<line x1="251.30" y1="206.10" x2="409.50" y2="206.10" stroke="#e8e8e8" stroke-width="0.5" stroke-dasharray="5 1"/>
<line x1="251.30" y1="210.77" x2="409.50" y2="210.77" stroke="#e8e8e8" stroke-width="0.5" stroke-dasharray="5 1"/>
<line x1="251.30" y1="215.44" x2="409.50" y2="215.44" stroke="#e8e8e8" stroke-width="0.5" stroke-dasharray="5 1"/>
<line x1="251.30" y1="220.10" x2="409.50" y2="220.10" stroke="#e8e8e8" stroke-width="0.5" stroke-dasharray="5 1"/>
<line x1="251.30" y1="224.77" x2="409.50" y2="224.77" stroke="#e8e8e8" stroke-width="0.5" stroke-dasharray="5 1"/>
<line x1="251.30" y1="229.44" x2="409.50" y2="229.44" stroke="#e8e8e8" stroke-width="0.5" stroke-dasharray="5 1"/>
<line x1="251.30" y1="234.10" x2="409.50" y2="234.10" stroke="#e8e8e8" stroke-width="0.5" stroke-dasharray="5 1"/>
<line x1="251.30" y1="238.77" x2="409.50" y2="238.77" stroke="#e8e8e8" stroke-width="0.5" stroke-dasharray="5 1"/>
<line x1="251.30" y1="243.44" x2="409.50" y2="243.44" stroke="#e8e8e8" stroke-width="0.5" stroke-dasharray="5 1"/>
<line x1="251.30" y1="248.11" x2="409.50" y2="248.11" stroke="#e8e8e8" stroke-width="0.5" stroke-dasharray="5 1"/>
<line x1="251.30" y1="252.77" x2="409.50" y2="252.77" stroke="#e8e8e8" stroke-width="0.5" stroke-dasharray="5 1"/>
<line x1="251.30" y1="257.44" x2="409.50" y2="257.44" stroke="#e8e8e8" stroke-width="0.5" stroke-dasharray="5 1"/>
<line x1="251.30" y1="262.11" x2="409.50" y2="262.11" stroke="#e8e8e8" stroke-width="0.5" stroke-dasharray="5 1"/>
<line x1="251.30" y1="266.77" x2="409.50" y2="266.77" stroke="#e8e8e8" stroke-width="0.5" stroke-dasharray="5 1"/>
<rect x="343.80" y="162.35" width="36.40" height="3.50" fill="#4682B4" stroke="none" stroke-width="0" />
<text x="250.30" y="165.48" font-size="3.9" text-anchor="end" fill="#1a1a1a" stroke="#1a1a1a" stroke-width="0.04" >TRIM33 (TIF1γ)</text>
<rect x="298.40" y="167.02" width="45.40" height="3.50" fill="#4682B4" stroke="none" stroke-width="0" />
<text x="250.30" y="170.15" font-size="3.9" text-anchor="end" fill="#1a1a1a" stroke="#1a1a1a" stroke-width="0.04" >TRIM21</text>
<rect x="343.80" y="171.68" width="20.40" height="3.50" fill="#4682B4" stroke="none" stroke-width="0" />
<text x="250.30" y="174.81" font-size="3.9" text-anchor="end" fill="#1a1a1a" stroke="#1a1a1a" stroke-width="0.04" >SSB</text>
<rect x="343.80" y="176.35" width="18.90" height="3.50" fill="#4682B4" stroke="none" stroke-width="0" />
<text x="250.30" y="179.48" font-size="3.9" text-anchor="end" fill="#1a1a1a" stroke="#1a1a1a" stroke-width="0.04" >SRP72</text>
<rect x="343.80" y="181.02" width="16.00" height="3.50" fill="#4682B4" stroke="none" stroke-width="0" />
<text x="250.30" y="184.15" font-size="3.9" text-anchor="end" fill="#1a1a1a" stroke="#1a1a1a" stroke-width="0.04" >SRP68</text>
<rect x="334.70" y="185.69" width="9.10" height="3.50" fill="#4682B4" stroke="none" stroke-width="0" />
<text x="250.30" y="188.81" font-size="3.9" text-anchor="end" fill="#1a1a1a" stroke="#1a1a1a" stroke-width="0.04" >SNRPD3</text>
<rect x="334.70" y="190.35" width="9.10" height="3.50" fill="#4682B4" stroke="none" stroke-width="0" />
<text x="250.30" y="193.48" font-size="3.9" text-anchor="end" fill="#1a1a1a" stroke="#1a1a1a" stroke-width="0.04" >SNRPC</text>
<rect x="343.80" y="195.02" width="34.20" height="3.50" fill="#4682B4" stroke="none" stroke-width="0" />
<text x="250.30" y="198.15" font-size="3.9" text-anchor="end" fill="#1a1a1a" stroke="#1a1a1a" stroke-width="0.04" >SNRPB</text>
<rect x="320.90" y="199.69" width="22.90" height="3.50" fill="#4682B4" stroke="none" stroke-width="0" />
<text x="250.30" y="202.82" font-size="3.9" text-anchor="end" fill="#1a1a1a" stroke="#1a1a1a" stroke-width="0.04" >SNRPA</text>
<rect x="318.40" y="204.35" width="25.40" height="3.50" fill="#4682B4" stroke="none" stroke-width="0" />
<text x="250.30" y="207.48" font-size="3.9" text-anchor="end" fill="#1a1a1a" stroke="#1a1a1a" stroke-width="0.04" >SNRNP70</text>
<rect x="318.40" y="209.02" width="25.40" height="3.50" fill="#4682B4" stroke="none" stroke-width="0" />
<text x="250.30" y="212.15" font-size="3.9" text-anchor="end" fill="#1a1a1a" stroke="#1a1a1a" stroke-width="0.04" >SAE1</text>
<rect x="315.50" y="213.69" width="28.30" height="3.50" fill="#4682B4" stroke="none" stroke-width="0" />
<text x="250.30" y="216.82" font-size="3.9" text-anchor="end" fill="#1a1a1a" stroke="#1a1a1a" stroke-width="0.04" >RO60</text>
<rect x="326.90" y="218.35" width="16.90" height="3.50" fill="#4682B4" stroke="none" stroke-width="0" />
<text x="250.30" y="221.48" font-size="3.9" text-anchor="end" fill="#1a1a1a" stroke="#1a1a1a" stroke-width="0.04" >Ro.SSA.</text>
<rect x="325.00" y="223.02" width="18.80" height="3.50" fill="#4682B4" stroke="none" stroke-width="0" />
<text x="250.30" y="226.15" font-size="3.9" text-anchor="end" fill="#1a1a1a" stroke="#1a1a1a" stroke-width="0.04" >RNP.Sm.FREE</text>
<rect x="332.90" y="227.69" width="10.90" height="3.50" fill="#4682B4" stroke="none" stroke-width="0" />
<text x="250.30" y="230.82" font-size="3.9" text-anchor="end" fill="#1a1a1a" stroke="#1a1a1a" stroke-width="0.04" >RNP.Sm</text>
<rect x="336.20" y="232.35" width="7.60" height="3.50" fill="#4682B4" stroke="none" stroke-width="0" />
<text x="250.30" y="235.48" font-size="3.9" text-anchor="end" fill="#1a1a1a" stroke="#1a1a1a" stroke-width="0.04" >POLR3A</text>
<rect x="343.80" y="237.02" width="10.90" height="3.50" fill="#4682B4" stroke="none" stroke-width="0" />
<text x="250.30" y="240.15" font-size="3.9" text-anchor="end" fill="#1a1a1a" stroke="#1a1a1a" stroke-width="0.04" >La.SSB.</text>
<rect x="258.00" y="241.69" width="85.80" height="3.50" fill="#4682B4" stroke="none" stroke-width="0" />
<text x="250.30" y="244.82" font-size="3.9" text-anchor="end" fill="#1a1a1a" stroke="#1a1a1a" stroke-width="0.04" >JO.1</text>
<rect x="343.80" y="246.36" width="57.10" height="3.50" fill="#4682B4" stroke="none" stroke-width="0" />
<text x="250.30" y="249.49" font-size="3.9" text-anchor="end" fill="#1a1a1a" stroke="#1a1a1a" stroke-width="0.04" >IFIH1(MDA5)</text>
<rect x="323.80" y="251.02" width="20.00" height="3.50" fill="#4682B4" stroke="none" stroke-width="0" />
<text x="250.30" y="254.15" font-size="3.9" text-anchor="end" fill="#1a1a1a" stroke="#1a1a1a" stroke-width="0.04" >EXOSC9</text>
<rect x="322.00" y="255.69" width="21.80" height="3.50" fill="#4682B4" stroke="none" stroke-width="0" />
<text x="250.30" y="258.82" font-size="3.9" text-anchor="end" fill="#1a1a1a" stroke="#1a1a1a" stroke-width="0.04" >EXOSC10</text>
<rect x="339.80" y="260.36" width="4.00" height="3.50" fill="#4682B4" stroke="none" stroke-width="0" />
<text x="250.30" y="263.49" font-size="3.9" text-anchor="end" fill="#1a1a1a" stroke="#1a1a1a" stroke-width="0.04" >AARS1(PL12)</text>
<rect x="342.00" y="265.02" width="1.80" height="3.50" fill="#4682B4" stroke="none" stroke-width="0" />
<text x="250.30" y="268.15" font-size="3.9" text-anchor="end" font-weight="bold" fill="#A31515" stroke="#A31515" stroke-width="0.06" >IFNA Level</text>
<text x="258.30" y="272.70" font-size="3.45" text-anchor="middle" fill="#444" stroke="#444" stroke-width="0.04" >−0.6</text>
<text x="286.80" y="272.70" font-size="3.45" text-anchor="middle" fill="#444" stroke="#444" stroke-width="0.04" >−0.4</text>
<text x="315.30" y="272.70" font-size="3.45" text-anchor="middle" fill="#444" stroke="#444" stroke-width="0.04" >−0.2</text>
<text x="343.80" y="272.70" font-size="3.45" text-anchor="middle" fill="#444" stroke="#444" stroke-width="0.04" >0.0</text>
<text x="372.30" y="272.70" font-size="3.45" text-anchor="middle" fill="#444" stroke="#444" stroke-width="0.04" >0.2</text>
<text x="400.80" y="272.70" font-size="3.45" text-anchor="middle" fill="#444" stroke="#444" stroke-width="0.04" >0.4</text>
<text x="343.00" y="278.80" font-size="3.6" text-anchor="middle" font-weight="bold" fill="#000" stroke="#000" stroke-width="0.12" >Loading Value</text>
<text x="0" y="0" font-size="3.4" font-weight="bold" stroke="#000" stroke-width="0.1" text-anchor="middle" transform="translate(220.4,217.9) rotate(-90)">Variable</text>
</g>
</svg></body></html>
